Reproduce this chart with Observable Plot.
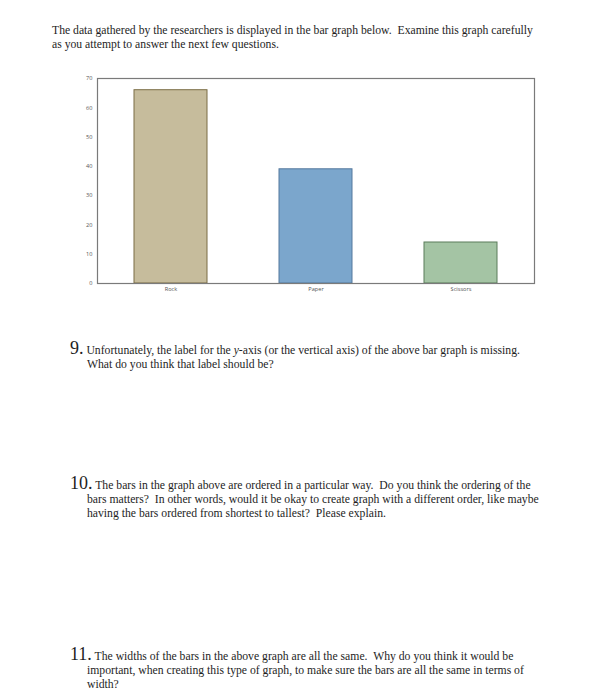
<!DOCTYPE html>
<html>
<head>
<meta charset="utf-8">
<script src="https://cdn.jsdelivr.net/npm/d3@7"></script>
<script src="https://cdn.jsdelivr.net/npm/@observablehq/plot@0.6"></script>
<style>
  html, body { margin: 0; padding: 0; background: #fff; }
  #page { position: relative; width: 593px; height: 700px; overflow: hidden; }
  .txt { position: absolute; font-family: "Liberation Serif", "Times New Roman", serif; color: #1e1e1e; font-size: 11.7px; line-height: 14px; white-space: nowrap; }
  .num { font-size: 18px; }
  .cont { padding-left: 17px; }
  #chart { position: absolute; left: 0; top: 60px; }
</style>
</head>
<body>
<div id="page">
  <div class="txt" style="left:52px; top:24px;">The data gathered by the researchers is displayed in the bar graph below.&nbsp; Examine this graph carefully<br>as you attempt to answer the next few questions.</div>
  <div id="chart"></div>
  <div class="txt" style="left:70px; top:341px;"><span class="num">9.</span> Unfortunately, the label for the <i>y</i>-axis (or the vertical axis) of the above bar graph is missing.<br><span class="cont">What do you think that label should be?</span></div>
  <div class="txt" style="left:70px; top:476px;"><span class="num">10.</span> The bars in the graph above are ordered in a particular way.&nbsp; Do you think the ordering of the<br><span class="cont">bars matters?&nbsp; In other words, would it be okay to create graph with a different order, like maybe</span><br><span class="cont">having the bars ordered from shortest to tallest?&nbsp; Please explain.</span></div>
  <div class="txt" style="left:70px; top:647px;"><span class="num">11.</span> The widths of the bars in the above graph are all the same.&nbsp; Why do you think it would be<br><span class="cont">important, when creating this type of graph, to make sure the bars are all the same in terms of</span><br><span class="cont">width?</span></div>
</div>
<script>
const categories = ["Rock", "Paper", "Scissors"];
const values = [66, 39, 14];
const yTicks = [0, 10, 20, 30, 40, 50, 60, 70];

const fillColors = ["#c6bc9c", "#7ba6cc", "#a4c4a4"];
const strokeColors = ["#7a6d45", "#55799e", "#5b7d5b"];

const data = categories.map((c, i) => ({category: c, value: values[i], fill: fillColors[i], stroke: strokeColors[i]}));

const chart = Plot.plot({
  width: 593,
  height: 250,
  marginTop: 18,
  marginBottom: 27,
  marginLeft: 97,
  marginRight: 59,
  style: {fontFamily: "'Open Sans', 'DejaVu Sans', sans-serif", fontSize: "5.6px", color: "#555", background: "white"},
  x: {domain: categories, paddingInner: 0.5, paddingOuter: 0.25, label: null, tickSize: 0, tickPadding: 4},
  y: {domain: [0, 70], ticks: yTicks, label: null, tickSize: 0, tickPadding: 5},
  marks: [
    Plot.barY(data, {x: "category", y: "value", fill: "fill", stroke: "stroke", strokeWidth: 1, inset: 0}),
    Plot.frame({stroke: "#7a7a7a", strokeWidth: 1.2})
  ]
});
document.getElementById("chart").appendChild(chart);
</script>
</body>
</html>
